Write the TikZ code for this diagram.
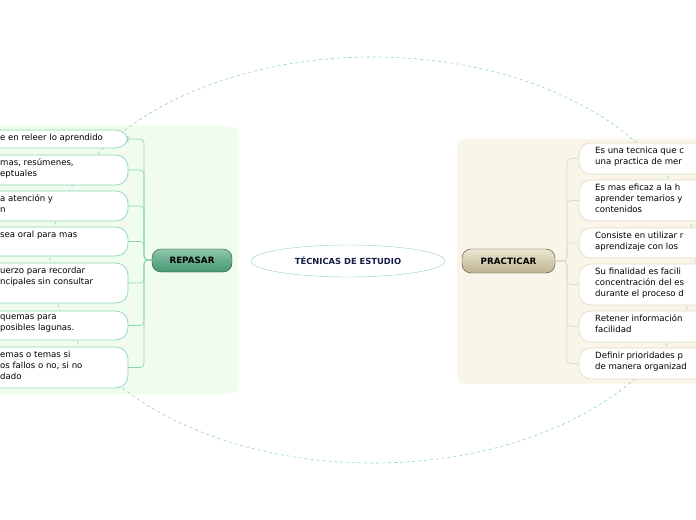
\documentclass[tikz,border=0pt]{standalone}
\usepackage{fontspec}
\setmainfont{DejaVu Sans}
\usetikzlibrary{shapes.geometric}
\begin{document}
\begin{tikzpicture}[x=1bp,y=-1bp,
 leaf/.style={draw=#1,fill=white,rounded corners=12bp,line width=0.7pt},
 txt/.style={anchor=north west,inner sep=0,align=left,font=\fontsize{8.6}{11.2}\selectfont},
 lconn/.style={draw=#1,line width=0.7pt,rounded corners=4bp}]
\definecolor{gline}{HTML}{8ED5B8}\definecolor{bline}{HTML}{E3DCC4}
\useasboundingbox (0,0) rectangle (696,520);
\clip (0,0) rectangle (696,520);
\fill[fill={rgb,255:red,240;green,253;blue,238},rounded corners=8bp] (-10,126) rectangle (238,394);
\fill[fill={rgb,255:red,249;green,245;blue,233},rounded corners=8bp] (457,139) rectangle (710,384);
\draw[gline,dashed,line width=0.6pt] (373,260) ellipse [x radius=323, y radius=203];
% left
\foreach \a/\b/\t [count=\i] in {130/148/{e en releer lo aprendido},155/185/{mas, resúmenes,\\eptuales},191/221/{a atención y\\n},227/256/{ sea oral para mas},263/303/{uerzo para recordar\\ncipales sin consultar},311/340/{quemas para\\posibles lagunas.},347/388/{emas o temas si\\os fallos o no, si no\\dado}}{
 \draw[leaf=gline] (-30,\a) rectangle (128,\b);
 \node[txt] (l\i) at (0,\a+3.5) {\t};
 \draw[lconn=gline] (152,260) -- (144,260) |- (128,{(\a+\b)/2});
}
\node[draw={rgb,255:red,40;green,80;blue,60},rounded corners=9bp,top color={rgb,255:red,140;green,200;blue,170},bottom color={rgb,255:red,70;green,150;blue,115},minimum width=80bp,minimum height=23bp,font=\fontsize{8.8}{10}\selectfont\bfseries] (rep) at (192,260.5) {REPASAR};
% right
\foreach \a/\b/\t [count=\i] in {143/174/{Es una tecnica que c\\una practica  de mer},180/221/{Es mas eficaz a la h\\aprender temarios y\\contenidos},228/258/{Consiste en utilizar r\\aprendizaje con los},264/305/{Su finalidad es facili\\concentración del es\\durante el proceso d},311/342/{Retener información\\facilidad},348/379/{Definir prioridades p\\de manera organizad}}{
 \draw[leaf=bline] (579,\a) rectangle (740,\b);
 \node[txt] (r\i) at (595,\a+3.5) {\t};
 \draw[lconn=bline] (555,261) -- (567,261) |- (579,{(\a+\b)/2});
}
\node[draw={rgb,255:red,70;green,65;blue,50},rounded corners=9bp,top color={rgb,255:red,235;green,230;blue,210},bottom color={rgb,255:red,190;green,180;blue,145},minimum width=93bp,minimum height=24bp,font=\fontsize{8.8}{10}\selectfont\bfseries] (pra) at (508.5,261) {PRACTICAR};
\node[draw=gline,fill=white,ellipse,minimum width=194bp,minimum height=32bp,inner sep=0,font=\fontsize{8.4}{10}\selectfont\bfseries,text={rgb,255:red,20;green,30;blue,70}] (c) at (348,261) {TÉCNICAS DE ESTUDIO};
\end{tikzpicture}
\end{document}
